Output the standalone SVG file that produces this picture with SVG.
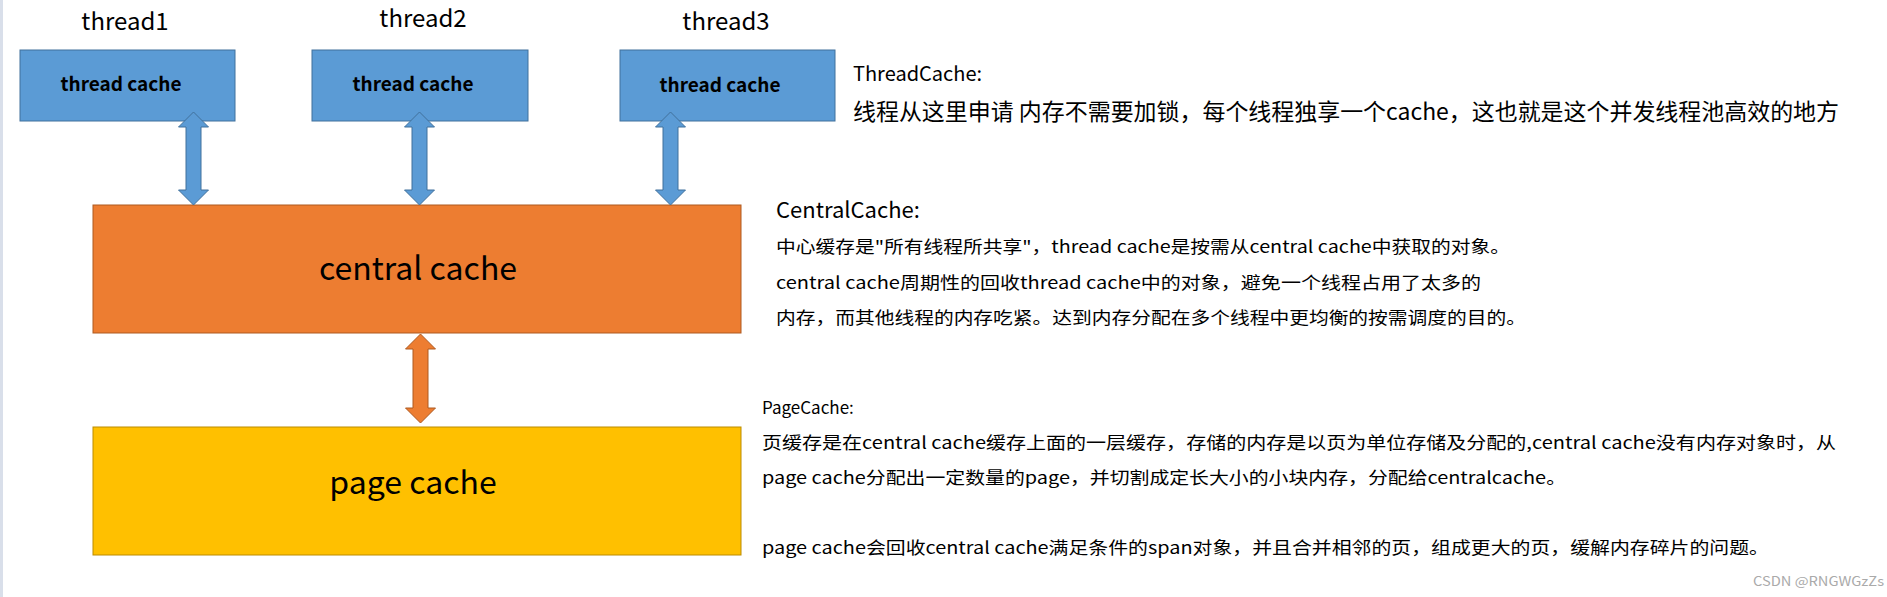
<svg xmlns="http://www.w3.org/2000/svg" width="1887" height="597" viewBox="0 0 1887 597">
<style>
text{font-family:"Noto Sans CJK SC","Liberation Sans",sans-serif;fill:#000}
.tc{fill:#5b9bd5;stroke:#41719c;stroke-width:1}
.ba{fill:#5b9bd5;stroke:#41719c;stroke-width:1}
.oa{fill:#ed7d31;stroke:#ae5a21;stroke-width:1}
.lbl{font-size:19px;font-weight:bold;text-anchor:middle}
.th{font-size:24px;text-anchor:middle}
.big{font-size:32px;text-anchor:middle}
.h{font-size:20px}
.d{font-size:17px}
</style>
<rect width="1887" height="597" fill="#fff"/>
<rect x="0" y="0" width="3" height="597" fill="#d9dfea"/>
<g id="thread1"><text class="th" x="125" y="30">thread1</text></g>
<g id="thread2"><text class="th" x="423" y="27">thread2</text></g>
<g id="thread3"><text class="th" x="726" y="30">thread3</text></g>
<g id="tc1"><rect class="tc" x="20" y="50" width="215" height="71"/><text class="lbl" x="121" y="91">thread cache</text></g>
<g id="tc2"><rect class="tc" x="312" y="50" width="216" height="71"/><text class="lbl" x="413" y="91">thread cache</text></g>
<g id="tc3"><rect class="tc" x="620" y="50" width="215" height="71"/><text class="lbl" x="720" y="92">thread cache</text></g>
<g id="central"><rect x="93" y="205" width="648" height="128" fill="#ed7d31" stroke="#ae5a21"/><text class="big" x="418" y="280">central cache</text></g>
<g id="page"><rect x="93" y="427" width="648" height="128" fill="#ffc000" stroke="#bc8c00"/><text class="big" x="413" y="494">page cache</text></g>
<g id="connectors">
<polygon class="ba" points="193.5,112 208.5,127 201,127 201,190 208.5,190 193.5,205 178.5,190 186,190 186,127 178.5,127"/>
<polygon class="ba" points="419.5,112 434.5,127 427,127 427,190 434.5,190 419.5,205 404.5,190 412,190 412,127 404.5,127"/>
<polygon class="ba" points="670.5,112 685.5,127 678,127 678,190 685.5,190 670.5,205 655.5,190 663,190 663,127 655.5,127"/>
<polygon class="oa" points="420.5,334 435.5,349 428,349 428,408 435.5,408 420.5,423 405.5,408 413,408 413,349 405.5,349"/>
</g>
<g id="notes">
<text class="h" x="853" y="81">ThreadCache:</text>
<text x="853" y="120" font-size="23" textLength="986" lengthAdjust="spacingAndGlyphs">线程从这里申请 内存不需要加锁，每个线程独享一个cache，这也就是这个并发线程池高效的地方</text>
<text x="776" y="218" font-size="22">CentralCache:</text>
<text class="d" x="776" y="253" textLength="734" lengthAdjust="spacingAndGlyphs">中心缓存是"所有线程所共享"，thread cache是按需从central cache中获取的对象。</text>
<text class="d" x="776" y="289" textLength="705" lengthAdjust="spacingAndGlyphs">central cache周期性的回收thread cache中的对象，避免一个线程占用了太多的</text>
<text class="d" x="776" y="324" textLength="750" lengthAdjust="spacingAndGlyphs">内存，而其他线程的内存吃紧。达到内存分配在多个线程中更均衡的按需调度的目的。</text>
<text class="d" x="762" y="414">PageCache:</text>
<text class="d" x="762" y="449" textLength="1074" lengthAdjust="spacingAndGlyphs">页缓存是在central cache缓存上面的一层缓存，存储的内存是以页为单位存储及分配的,central cache没有内存对象时，从</text>
<text class="d" x="762" y="484" textLength="804" lengthAdjust="spacingAndGlyphs">page cache分配出一定数量的page，并切割成定长大小的小块内存，分配给centralcache。</text>
<text class="d" x="762" y="554" textLength="1007" lengthAdjust="spacingAndGlyphs">page cache会回收central cache满足条件的span对象，并且合并相邻的页，组成更大的页，缓解内存碎片的问题。</text>
<text x="1753" y="586" font-size="13" fill="#aaa" style="fill:#aaa" textLength="131" lengthAdjust="spacingAndGlyphs">CSDN @RNGWGzZs</text>
</g>
</svg>
